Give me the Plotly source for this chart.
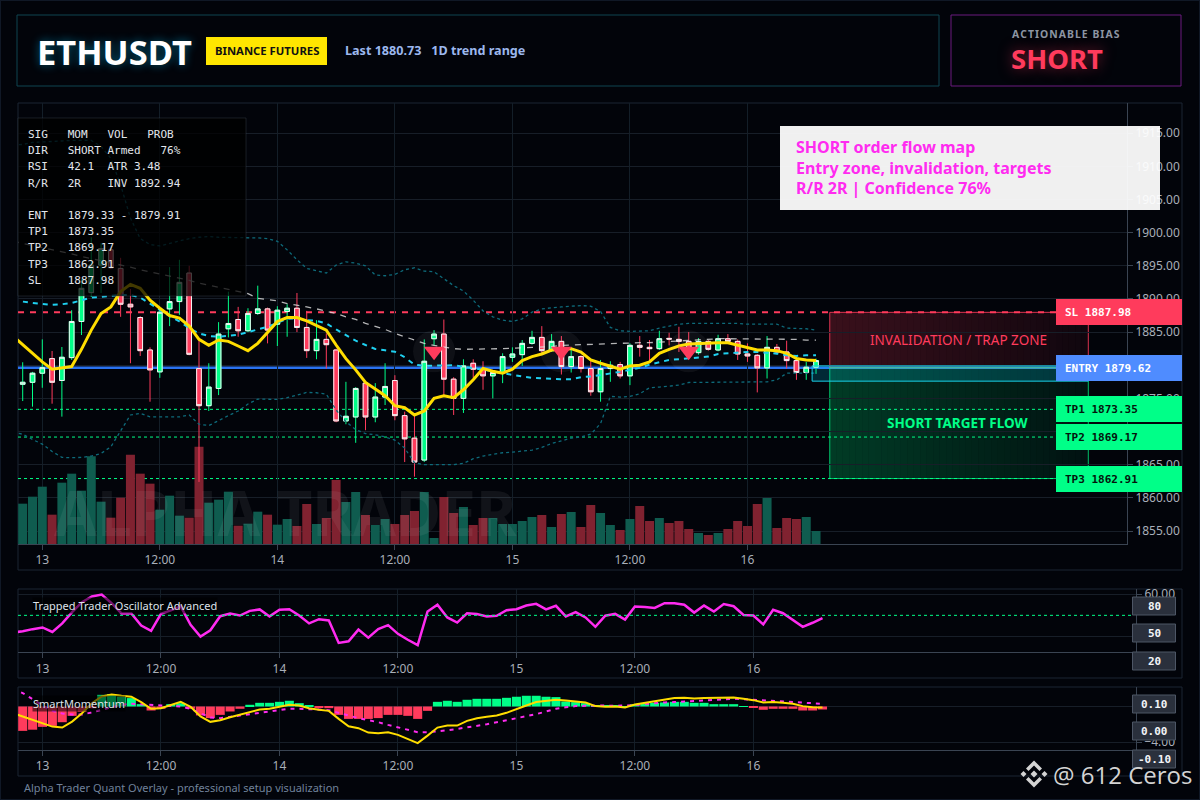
import numpy as np
import pandas as pd
import plotly.graph_objects as go

W, H = 1200, 800
TEXT_FONT = "Noto Sans"
MONO_FONT = "DejaVu Sans Mono"

RED = "#ff3b5c"
GREEN = "#00ff88"
BLUE = "#4f8cff"
YELLOW = "#ffdd00"
MAGENTA = "#ff2bf0"

# hourly bars, first bar is two hours before the "13" tick
opens = [1877.13, 1877.43, 1878.8, 1881, 1877.7, 1881.15, 1886.6, 1890.95, 1895.1, 1897.4, 1894.6, 1889.2, 1887.2, 1882.3,
         1879, 1888.5, 1889.6, 1893.9, 1879.5, 1873.9, 1876.5, 1885.5, 1886.9, 1885.2, 1887.8, 1888.5, 1886.2, 1888.1, 1888.6,
         1885.7, 1882.2, 1883.9, 1882.3, 1871.6, 1872.2, 1877.3, 1872.2, 1875.2, 1877.7, 1872.4, 1869, 1865.7, 1884, 1884.7,
         1877.9, 1875, 1880.3, 1879.4, 1878.4, 1878.9, 1881.2, 1881.6, 1883.3, 1884.2, 1882.2, 1883.6, 1879.8, 1881.3, 1879.5,
         1876, 1879.5, 1880.1, 1878.4, 1883, 1882.7, 1882.5, 1884.05, 1883.9, 1883.6, 1881.9, 1883.6, 1882.3, 1884, 1883.6,
         1881.7, 1881.5, 1879.6, 1882.7, 1882, 1880.7, 1878.9, 1879.7]
highs = [1880.45, 1879, 1883.9, 1882.15, 1882.75, 1888.3, 1893, 1899.3, 1898.4, 1897.6, 1896.2, 1891.5, 1887.4, 1882.7,
         1888.5, 1894.8, 1895.9, 1895, 1883.8, 1880.3, 1886.5, 1891.1, 1888.8, 1888.6, 1892, 1888.7, 1888.9, 1889.2, 1890.9,
         1888.2, 1886.8, 1884.8, 1882.5, 1877.5, 1876.7, 1877.5, 1877.3, 1880.3, 1878.5, 1873, 1872.5, 1883.9, 1885.3, 1886.9,
         1878.2, 1880.9, 1880.9, 1880.6, 1879.1, 1881.8, 1882.7, 1883.8, 1885.2, 1885.9, 1884.7, 1884.4, 1882.7, 1881.5, 1880.8,
         1880.8, 1880.6, 1880.5, 1883.3, 1884.4, 1883.8, 1885.2, 1884.9, 1885.8, 1885, 1884.1, 1883.8, 1884.6, 1884.7, 1883.9,
         1883.3, 1881.7, 1884.4, 1883.2, 1883.7, 1880.9, 1880.5, 1881]
lows = [1874.6, 1873.75, 1876.6, 1874.2, 1872.25, 1880.8, 1884.56, 1890.3, 1890.9, 1894.5, 1887.3, 1880.3, 1881.4, 1874.5,
        1878.1, 1885.9, 1887.6, 1881.5, 1862.4, 1873.1, 1875.5, 1884.2, 1884.3, 1885, 1887.6, 1883.3, 1882.9, 1884.3, 1885,
        1881.1, 1880.9, 1879.5, 1871.4, 1871.1, 1868.3, 1870.2, 1871.4, 1874, 1871.7, 1865.4, 1863.2, 1865.4, 1883, 1875.5,
        1872.5, 1872.8, 1878.1, 1876.3, 1875, 1877.3, 1880.5, 1879.9, 1883.1, 1881.8, 1882, 1878.6, 1878.9, 1878.9, 1875.4,
        1874.5, 1877.5, 1878, 1877, 1881.3, 1880.7, 1882.3, 1883, 1882, 1881.5, 1881.6, 1882.2, 1882.1, 1883.2, 1880.8,
        1880.5, 1875.9, 1878, 1881.8, 1879.5, 1877.8, 1877.8, 1878.7]
closes = [1877.43, 1878.8, 1879.63, 1877.43, 1881.2, 1886.6, 1891.6, 1895.1, 1897.6, 1894.7, 1889.2, 1888.8, 1882.2, 1879.3,
          1888, 1889.6, 1892.5, 1881.65, 1873.9, 1876.7, 1884.7, 1886.3, 1885.2, 1887.8, 1888.5, 1885.3, 1888.3, 1888.6, 1885.7,
          1882.2, 1883.9, 1883.1, 1871.6, 1872.3, 1876.5, 1872.2, 1875.2, 1876.8, 1872.4, 1868.9, 1865.4, 1880.6, 1884.7, 1877.9,
          1875, 1879.9, 1879.4, 1878.4, 1878.9, 1881.3, 1881.7, 1883.3, 1884.2, 1882.2, 1883.6, 1879.8, 1881.3, 1879.5, 1876,
          1879.5, 1880, 1878.4, 1883, 1882.7, 1882.5, 1884, 1883.95, 1883.6, 1881.9, 1883.6, 1882.4, 1884, 1883.6, 1881.7,
          1881.4, 1879.6, 1882.7, 1882, 1880.7, 1878.9, 1879.7, 1880.7]
volumes = [121, 142, 172, 88, 184, 211, 160, 263, 127, 79, 139, 268, 211, 181, 103, 145, 85, 79, 292, 124, 133, 157, 55, 61, 97, 88,
           58, 75, 54, 120, 60, 78, 192, 126, 156, 87, 57, 75, 60, 87, 99, 156, 18, 141, 93, 111, 57, 78, 78, 60, 60, 69, 81, 87,
           51, 90, 96, 51, 117, 93, 57, 42, 75, 114, 69, 78, 63, 69, 45, 33, 27, 33, 45, 69, 54, 120, 138, 48, 78, 75, 81, 39]

# the line series start one bar earlier, that point is clipped by the axis
fast_ema = [1884.4, 1883.15, 1881.8, 1880.5, 1879.4, 1879.6, 1879.8, 1882.4, 1885.3, 1887.8, 1888.8, 1891.1, 1892.2, 1891.6, 1889.8,
            1888.6, 1887.5, 1887.1, 1885.9, 1883.9, 1883, 1883.8, 1883.6, 1882.9, 1882.2, 1883.3, 1885, 1886.6, 1887.2, 1887.2,
            1886.7, 1886, 1885.3, 1883.05, 1881, 1879.3, 1877.4, 1876.4, 1875.4, 1873.9, 1873.6, 1872.5, 1873.1, 1875, 1875.4,
            1875.1, 1876.3, 1877.8, 1879.5, 1879.1, 1878.8, 1879.4, 1880.7, 1881.3, 1881.7, 1882.3, 1882.4, 1882.5, 1882, 1880.8,
            1880.3, 1879.9, 1879.4, 1879.9, 1880, 1880.5, 1881.8, 1882.4, 1882.9, 1883.2, 1883.3, 1883.3, 1883.4, 1883.4, 1883,
            1882.65, 1882.3, 1882.3, 1882.2, 1881.8, 1881, 1880.8, 1880.7]
slow_ema = [1889.6, 1889.6, 1889.4, 1889.2, 1889.1, 1889.2, 1889.4, 1889.8, 1890.2, 1890.3, 1890.5, 1890.6, 1890.6, 1890.2, 1889.3,
            1888.3, 1887.4, 1886.6, 1885.6, 1884.8, 1884.4, 1884.3, 1884.4, 1884.6, 1885, 1885.4, 1885.8, 1886.4, 1887, 1887.1,
            1886.8, 1886.7, 1886.3, 1885.4, 1884.6, 1883.7, 1883.05, 1882.45, 1882.25, 1882.05, 1881.2, 1880.1, 1879.9, 1879.95, 1880,
            1880, 1879.8, 1879.6, 1879.4, 1879.1, 1878.8, 1878.5, 1878.3, 1878.1, 1878, 1878, 1877.9, 1877.9, 1878.2, 1878.3,
            1878.5, 1878.7, 1879, 1879.3, 1879.6, 1880.1, 1880.5, 1880.8, 1880.9, 1881, 1881.1, 1881.3, 1881.7, 1881.8, 1882,
            1882, 1882, 1881.9, 1881.75, 1881.5, 1881.4, 1881.5, 1881.5]
band_upper = [1913.2, 1913.3, 1913.6, 1913.7, 1913.8, 1913.8, 1913.9, 1913.9, 1913.9, 1913, 1911.2, 1907.2, 1902.2, 1899.1, 1898.2,
              1898, 1898.4, 1898.7, 1899.1, 1899.3, 1899.4, 1899.3, 1899.3, 1899.3, 1899.2, 1899.2, 1899.1, 1898.7, 1897.4, 1895.9,
              1894.6, 1894.3, 1893.9, 1895.1, 1895.6, 1895.4, 1895, 1893.6, 1893.5, 1893.7, 1894.4, 1894.7, 1894.2, 1894.1, 1893.1,
              1892, 1891.2, 1889.8, 1888.2, 1887.3, 1886.8, 1886.6, 1887, 1888, 1888.5, 1888.7, 1888.8, 1888.9, 1889, 1888.9,
              1888.1, 1885.7, 1885.2, 1885.1, 1885.2, 1885.2, 1885.6, 1885.9, 1886.2, 1886.3, 1886.3, 1886.4, 1886.4, 1886.4, 1886.3,
              1886.2, 1886.2, 1886.2, 1886.2, 1885.6, 1885.6, 1885.5, 1885.3]
band_lower = [1869.9, 1869.6, 1868.8, 1868.1, 1867, 1866.1, 1866.05, 1866.1, 1866.3, 1866.7, 1867.7, 1870, 1872.5, 1872.75, 1872.2,
              1872.2, 1872.2, 1872.2, 1872.5, 1871.1, 1870.9, 1871.7, 1872.4, 1873.1, 1874.15, 1874.9, 1874.85, 1874.85, 1875.1, 1875.5,
              1875.9, 1875.85, 1875.65, 1873.25, 1871.5, 1870.3, 1869.7, 1869.5, 1869.2, 1868.7, 1867.5, 1865.3, 1865, 1865, 1865,
              1865, 1865.2, 1865.9, 1866.3, 1866.6, 1866.8, 1866.9, 1867, 1867.2, 1867.6, 1868.2, 1868.6, 1869, 1869.2, 1869.6,
              1871.2, 1875.3, 1875.2, 1875.3, 1875.7, 1876.6, 1876.7, 1876.8, 1877, 1877.4, 1877.4, 1877.4, 1877.4, 1877.4, 1877.4,
              1877.4, 1877.45, 1877.5, 1877.8, 1878.8, 1878.8, 1878.8, 1878.8]
trend_line = [1898.7, 1898.4, 1898.1, 1897.8, 1897.4, 1897.1, 1896.8, 1896.4, 1896.1, 1895.8, 1895.5, 1895.1, 1894.8, 1894.4, 1894.1,
              1893.8, 1893.4, 1893.1, 1892.8, 1892.4, 1892.1, 1891.8, 1891.4, 1891.1, 1890.8, 1890.1, 1889.9, 1889.7, 1889.3, 1889.1,
              1888.8, 1888.5, 1888.2, 1887.8, 1887.3, 1886.9, 1886.3, 1885.9, 1885.4, 1884.8, 1884.3, 1883.8, 1883.3, 1883, 1882.7,
              1882.5, 1882.4, 1882.4, 1882.4, 1882.45, 1882.5, 1882.55, 1882.6, 1882.65, 1882.75, 1882.8, 1883, 1883.05, 1883.1, 1883.2,
              1883.3, 1883.3, 1883.4, 1883.4, 1883.4, 1883.4, 1883.5, 1883.6, 1883.7, 1883.8, 1883.9, 1884, 1884, 1884, 1884,
              1884, 1884, 1884, 1884, 1883.9, 1883.9, 1883.8, 1883.8]

signal_hours = [40, 53, 66]
signal_prices = [1882.1, 1882.1, 1882.1]

oscillator = [41.9, 42.5, 43.5, 44.3, 42.2, 46.2, 51.5, 56.2, 58.9, 59.8, 55.7, 50.9, 50.9, 45.2, 42.7, 50.7, 52.3, 54.2, 45.5, 40, 43,
              49.6, 50.9, 49.9, 52.1, 52.8, 49.5, 52.6, 52.9, 49.9, 46.2, 48.2, 47.6, 37, 37.8, 43.3, 39.5, 43.5, 45.4, 41.3, 38.5,
              36, 51.8, 55, 49, 46.6, 51, 50.6, 49.5, 49.8, 52.4, 52.9, 54.6, 55.4, 52.8, 54.5, 49.5, 51.5, 49, 44.6, 49.8, 50.7,
              48, 54.2, 53.9, 53.5, 55.7, 55.7, 55, 51.3, 54.6, 51.8, 55.3, 54.3, 50.2, 49.9, 45.7, 52.6, 51, 47.9, 44.6, 46.5, 48.7]
mom_hist = [-2.73, -2.6, -2.28, -2.17, -1.76, -1.05, -0.6, -0.2, 1.3, 1.39, 1.1, 0.94, 0.26, -0.45, -0.26, 0.26, 0.37, -0.26, -1, -1.3,
            -0.94, -0.56, -0.26, 0.19, 0.41, 0.41, 0.52, 0.64, 0.37, 0.11, -0.11, -0.19, -0.94, -1.39, -1.39, -1.39, -1.3, -0.94, -0.94,
            -1.05, -1.39, -0.49, 0.52, 0.64, 0.52, 0.75, 0.86, 0.86, 0.86, 0.97, 1.09, 1.2, 1.2, 1.09, 1.05, 0.56, 0.49, 0.37,
            0.11, 0.11, 0.11, 0.03, 0.26, 0.37, 0.41, 0.45, 0.52, 0.52, 0.41, 0.41, 0.26, 0.26, 0.26, 0.04, -0.15, -0.37, -0.26,
            -0.26, -0.26, -0.45, -0.45, -0.34]
mom_line = [-0.75, -1.12, -1.5, -1.87, -2.25, -2.36, -1.69, -0.75, 0.37, 1.12, 1.35, 1.2, 1.09, 0.49, -0.26, -0.19, 0.19, 0.52, -0.04, -1.12,
            -1.72, -1.54, -1.2, -0.94, -0.67, -0.34, -0.26, 0, 0.19, 0.11, -0.19, -0.37, -0.49, -1.39, -2.21, -2.43, -2.92, -2.99, -2.88,
            -3.18, -3.63, -4.1, -3.26, -2.36, -2.14, -2.14, -1.61, -1.31, -1.16, -1.01, -0.71, -0.34, 0.11, 0.49, 0.6, 0.75, 0.67, 0.6,
            0.45, 0.04, -0.04, 0, -0.11, 0.22, 0.41, 0.56, 0.79, 0.94, 0.97, 0.9, 0.94, 0.94, 0.97, 1.01, 0.86, 0.71, 0.45,
            0.49, 0.41, 0.3, 0.04, -0.08, -0.11]
mom_signal = [2, 1.5, 0.82, 0.11, -0.49, -0.79, -0.9, -0.9, -0.67, -0.37, -0.08, 0.19, 0.3, 0.26, 0.19, 0.11, 0.04, 0, -0.26, -0.79,
              -1.24, -1.31, -1.16, -1.05, -0.86, -0.75, -0.56, -0.41, -0.26, -0.26, -0.26, -0.34, -0.41, -0.67, -1.01, -1.31, -1.5, -1.76, -2.06,
              -2.36, -2.62, -2.88, -2.88, -2.81, -2.66, -2.51, -2.36, -2.17, -1.99, -1.76, -1.54, -1.31, -1.09, -0.86, -0.56, -0.26, -0.08, 0.04,
              0.07, 0.11, 0.11, 0.07, 0.07, 0.15, 0.26, 0.37, 0.45, 0.49, 0.56, 0.6, 0.67, 0.79, 0.82, 0.86, 0.82, 0.75, 0.67,
              0.64, 0.56, 0.49, 0.41, 0.34, 0.3]

sl_price = 1887.98
entry_price = 1879.62
entry_zone = [1877.6, 1879.9]
tp_prices = [1873.35, 1869.17, 1862.91]
osc_level = 50

tick_hours = [0, 12, 24, 36, 48, 60, 72]
tick_labels = ["13", "12:00", "14", "12:00", "15", "12:00", "16"]
info_lines = ["SIG   MOM   VOL   PROB", "DIR   SHORT Armed   76%", "RSI   42.1  ATR 3.48", "R/R   2R    INV 1892.94", "",
              "ENT   1879.33 - 1879.91", "TP1   1873.35", "TP2   1869.17", "TP3   1862.91", "SL    1887.98"]
note_lines = ["SHORT order flow map", "Entry zone, invalidation, targets", "R/R 2R | Confidence 76%"]

base = pd.Timestamp("2023-06-13")


def at(hour):
    return base + pd.Timedelta(hours=float(hour))


def px_x(x):
    return x / W


def px_y(y):
    return 1 - y / H


bar_times = [at(h) for h in range(-2, 80)]
line_times = [at(h) for h in range(-3, 80)]
x_range = [at(-2.48), at(110.75)]
tick_times = [at(h) for h in tick_hours]

opens = np.array(opens)
closes = np.array(closes)
fig = go.Figure()

# volume sits on the base axis so the candles draw over it
vol_colors = ["#0f5c4f" if c >= o else "#802230" for o, c in zip(opens, closes)]
fig.add_trace(go.Bar(x=bar_times, y=volumes, marker=dict(color=vol_colors, line_width=0), xaxis="x", yaxis="y"))

# wicks first, then white edged bodies without wicks
fig.add_trace(go.Candlestick(x=bar_times, open=opens, high=highs, low=lows, close=closes, whiskerwidth=0,
                             increasing=dict(line=dict(color=GREEN, width=1), fillcolor=GREEN),
                             decreasing=dict(line=dict(color=RED, width=1), fillcolor=RED),
                             xaxis="x", yaxis="y2"))
fig.add_trace(go.Candlestick(x=bar_times, open=opens, close=closes, high=np.maximum(opens, closes), low=np.minimum(opens, closes),
                             whiskerwidth=0,
                             increasing=dict(line=dict(color="#f2f5f5", width=1), fillcolor=GREEN),
                             decreasing=dict(line=dict(color="#f2f5f5", width=1), fillcolor=RED),
                             xaxis="x", yaxis="y2"))

for series, color, width, dash in [(band_upper, "#0e6a7a", 1.3, "dot"), (band_lower, "#0e6a7a", 1.3, "dot"),
                                   (trend_line, "rgba(225,225,225,0.8)", 1.3, "6px,6px"),
                                   (slow_ema, "#1fd0f0", 2, "5px,5px"), (fast_ema, YELLOW, 3, "solid")]:
    fig.add_trace(go.Scatter(x=line_times, y=series, mode="lines", line=dict(color=color, width=width, dash=dash),
                             xaxis="x", yaxis="y2"))

signal_times = [at(h) for h in signal_hours]
fig.add_trace(go.Scatter(x=signal_times, y=signal_prices, mode="markers", xaxis="x", yaxis="y2",
                         marker=dict(symbol="circle", size=42, color="rgba(255,255,255,0.05)")))
fig.add_trace(go.Scatter(x=signal_times, y=signal_prices, mode="markers", xaxis="x", yaxis="y2",
                         marker=dict(symbol="triangle-down", size=18, color=RED)))

fig.add_trace(go.Scatter(x=line_times, y=oscillator, mode="lines", line=dict(color=MAGENTA, width=2.5), xaxis="x2", yaxis="y3"))

hist_colors = [GREEN if v >= 0 else RED for v in mom_hist]
fig.add_trace(go.Bar(x=bar_times, y=mom_hist, marker=dict(color=hist_colors, line_width=0), xaxis="x3", yaxis="y4"))
fig.add_trace(go.Scatter(x=line_times, y=mom_signal, mode="lines", line=dict(color=MAGENTA, width=2, dash="4px,5px"), xaxis="x3", yaxis="y4"))
fig.add_trace(go.Scatter(x=line_times, y=mom_line, mode="lines", line=dict(color=YELLOW, width=2), xaxis="x3", yaxis="y4"))

shapes = []
notes = []


def box(x0, y0, x1, y1, fill="rgba(0,0,0,0)", line=None, width=1, layer="above"):
    shapes.append(dict(type="rect", xref="paper", yref="paper", x0=px_x(x0), x1=px_x(x1), y0=px_y(y0), y1=px_y(y1),
                       fillcolor=fill, line=dict(color=line or "rgba(0,0,0,0)", width=width if line else 0), layer=layer))


def label(x, y, text, size=12, color="#ffffff", family=TEXT_FONT, anchor="left", weight="normal", shadow=None, bg=None):
    font = dict(size=size, color=color, family=family, weight=weight)
    if shadow:
        font["shadow"] = shadow
    item = dict(xref="paper", yref="paper", x=px_x(x), y=px_y(y), text=text, showarrow=False, xanchor=anchor, yanchor="middle",
                font=font, align="left", borderpad=0)
    if bg:
        item["bgcolor"] = bg
    notes.append(item)


# page frame and the panels
box(0, 0, W, H, line="#101826", width=2, layer="below")
box(17, 15, 939, 86, line="#0e4450", layer="below")
box(951, 15, 1181, 86, line="#6a1b7e", layer="below")
box(18, 103, 1182, 570, line="#1a2433", layer="below")
box(18, 589, 1182, 678, line="#1a2433", layer="below")
box(18, 687, 1182, 776, line="#1a2433", layer="below")

# horizontal levels under the candles
for price, color, width, dash in [(sl_price, RED, 2, "6px,6px"), (entry_price, "#2a72f0", 2.5, "solid"),
                                  (tp_prices[0], GREEN, 1, "dot"), (tp_prices[1], GREEN, 1, "dot"), (tp_prices[2], GREEN, 1, "dot")]:
    shapes.append(dict(type="line", xref="paper", yref="y2", x0=px_x(18), x1=px_x(1056), y0=price, y1=price,
                       line=dict(color=color, width=width, dash=dash), layer="below"))

# gradient zones drawn as thin strips
zone_start, zone_end = 80.4, 106.8
strips = 40
for i in range(strips):
    left = zone_start + (zone_end - zone_start) * i / strips
    right = zone_start + (zone_end - zone_start) * (i + 1) / strips
    alpha = 0.22 - 0.16 * i / (strips - 1)
    shapes.append(dict(type="rect", xref="x", yref="y2", x0=at(left), x1=at(right), y0=entry_price, y1=sl_price,
                       fillcolor=f"rgba(255,59,92,{alpha:.3f})", line_width=0, layer="below"))
    shapes.append(dict(type="rect", xref="x", yref="y2", x0=at(left), x1=at(right), y0=tp_prices[2], y1=entry_price,
                       fillcolor=f"rgba(0,255,136,{alpha:.3f})", line_width=0, layer="below"))
shapes.append(dict(type="rect", xref="x", yref="y2", x0=at(zone_start), x1=at(zone_end), y0=entry_price, y1=sl_price,
                   line=dict(color="rgba(255,59,92,0.85)", width=1), layer="below"))
shapes.append(dict(type="rect", xref="x", yref="y2", x0=at(zone_start), x1=at(zone_end), y0=tp_prices[2], y1=entry_price,
                   line=dict(color="rgba(0,255,136,0.75)", width=1), layer="below"))
shapes.append(dict(type="rect", xref="x", yref="y2", x0=at(78.6), x1=at(zone_end), y0=entry_zone[0], y1=entry_zone[1],
                   fillcolor="rgba(0,210,255,0.18)", line=dict(color="#19cfe6", width=1), layer="above"))

# osc mid level
shapes.append(dict(type="line", xref="paper", yref="y3", x0=px_x(18), x1=px_x(1132), y0=osc_level, y1=osc_level,
                   line=dict(color=GREEN, width=1, dash="dot"), layer="above"))

# header
label(36, 52, "ETHUSDT", size=34.5, color="#ffffff", weight="bold", shadow="0 0 10px rgba(0,200,255,0.45)")
box(206, 37, 327, 65, fill="#ffe600")
label(266.5, 51, "BINANCE FUTURES", size=11.3, color="#111111", anchor="center", weight="bold")
label(344, 51, "Last 1880.73\u00a0\u00a0\u00a01D trend range", size=12.6, color="#9cb8ee", weight="bold")
label(1066, 34, "\u200a".join("ACTIONABLE BIAS"), size=10.4, color="#8d95a3", anchor="center", weight="bold")
label(1057, 59, "SHORT", size=27.5, color=RED, anchor="center", weight="bold", shadow="0 0 14px rgba(255,59,92,0.5)")

# info panel
box(18, 118, 246, 296, fill="rgba(0,0,0,0.74)", line="rgba(70,80,95,0.35)")
info_rows = [134, 150, 166, 183, 199, 215, 231, 247, 264, 280]
for row, text in zip(info_rows, info_lines):
    if text:
        label(27, row, text.replace(" ", "\u00a0"), size=11, color="#e2e6ec", family=MONO_FONT)

# note box
box(780, 126, 1160, 210, fill="rgba(255,255,255,0.94)")
for row, text in zip([147, 168, 188], note_lines):
    label(795, row, text, size=16, color=MAGENTA, weight="bold")

# zone captions
label(958, 340, "INVALIDATION / TRAP ZONE", size=13.5, color=RED, anchor="center")
label(958, 423, "SHORT TARGET FLOW", size=13.5, color=GREEN, anchor="center", weight="bold")

# price tags
tags = [("SL 1887.98", sl_price, RED, "#ffffff"), ("ENTRY 1879.62", entry_price, BLUE, "#ffffff"),
        ("TP1 1873.35", tp_prices[0], GREEN, "#04140c"), ("TP2 1869.17", tp_prices[1], GREEN, "#04140c"),
        ("TP3 1862.91", tp_prices[2], GREEN, "#04140c")]
for text, price, color, ink in tags:
    notes.append(dict(xref="paper", yref="y2", x=px_x(1056), y=price, text=text, showarrow=False, xanchor="left", yanchor="middle",
                      width=108, height=8, align="left", valign="middle", bgcolor=color, borderpad=9, borderwidth=0,
                      font=dict(family=MONO_FONT, size=11, color=ink, weight="bold")))

# side tags on the lower panes
for text, row in [("80", 606), ("50", 633), ("20", 661), ("0.10", 704), ("0.00", 731), ("-0.10", 759)]:
    box(1132.5, row - 9, 1175.5, row + 9, fill="#2a303c", line="#4d5665")
    label(1154, row, text, size=11, color="#f2f4f7", family=MONO_FONT, anchor="center", weight="bold")

# pane captions
label(32, 605, "Trapped Trader Oscillator Advanced", size=11, color="#dfe3ea", bg="rgba(0,0,0,0.55)")
label(32, 703, "SmartMomentum", size=11, color="#dfe3ea", bg="rgba(0,0,0,0.55)")

label(23, 787, "Alpha Trader Quant Overlay - professional setup visualization", size=11, color="#70829a")

# faint watermark over the volume bars
notes.append(dict(xref="paper", yref="paper", x=px_x(285), y=px_y(512), text="ALPHA TRADER", showarrow=False, xanchor="center", yanchor="middle",
                  opacity=0.06, font=dict(size=62, color="#ffffff", family=TEXT_FONT, weight="bold")))

# exchange logo and handle
cx, cy = 1034, 774


def logo_path(points):
    pts = [f"{px_x(cx + dx):.5f},{px_y(cy + dy):.5f}" for dx, dy in points]
    return "M" + " L".join(pts) + " Z"


for points in [[(0, -3.5), (3.5, 0), (0, 3.5), (-3.5, 0)], [(-13.5, 0), (-10.5, -3), (-7.5, 0), (-10.5, 3)], [(13.5, 0), (10.5, -3), (7.5, 0), (10.5, 3)],
               [(0, -13.5), (8, -5.5), (5.5, -3), (0, -8.5), (-5.5, -3), (-8, -5.5)], [(0, 13.5), (8, 5.5), (5.5, 3), (0, 8.5), (-5.5, 3), (-8, 5.5)]]:
    shapes.append(dict(type="path", xref="paper", yref="paper", path=logo_path(points), fillcolor="#d4d4d4", line_width=0, layer="above"))
label(1052, 774, "@ 612 Ceros", size=24, color="#d4d4d4", family="Open Sans")

axis_common = dict(showgrid=True, gridcolor="#131e28", gridwidth=1, zeroline=False, ticks="outside", ticklen=5, tickcolor="#3a4452",
                   tickfont=dict(color="#a9afb9", size=12, family=TEXT_FONT), showline=True, linecolor="#3a4452", linewidth=1,
                   automargin=False)


def x_axis(right, anchor):
    return dict(axis_common, type="date", range=x_range, domain=[px_x(18), px_x(right)], anchor=anchor, tickmode="array",
                tickvals=tick_times, ticktext=tick_labels, rangeslider=dict(visible=False))


def y_axis(top, bottom, **kw):
    return dict(axis_common, gridcolor="#171e28", domain=[px_y(bottom), px_y(top)], side="right", tickformat=".2f", **kw)


fig.update_layout(
    width=W, height=H, autosize=False, margin=dict(l=0, r=0, t=0, b=0),
    paper_bgcolor="#02040a", plot_bgcolor="#02040a", showlegend=False, hovermode=False,
    barmode="overlay", bargap=0.08, boxmode="overlay", boxgap=0.32,
    xaxis=x_axis(1127, "y"),
    xaxis2=x_axis(1136, "y3"),
    xaxis3=x_axis(1136, "y4"),
    yaxis=dict(domain=[px_y(544), px_y(103)], range=[0, 1323], visible=False, showgrid=False, anchor="x", automargin=False),
    yaxis2=y_axis(103, 544, range=[1853.04, 1919.55], overlaying="y", anchor="x", dtick=5, tick0=1855),
    yaxis3=y_axis(589, 652.3, range=[32.6, 62.4], anchor="x2", tickmode="array", tickvals=[40, 60]),
    yaxis4=y_axis(687, 750, range=[-4.87, 2.18], anchor="x3", tickmode="array", tickvals=[-4, 0]),
    shapes=shapes, annotations=notes,
)

fig.write_html("out.html", config={"displayModeBar": False},
               post_script="document.body.style.margin='0';document.body.style.background='#02040a';")
